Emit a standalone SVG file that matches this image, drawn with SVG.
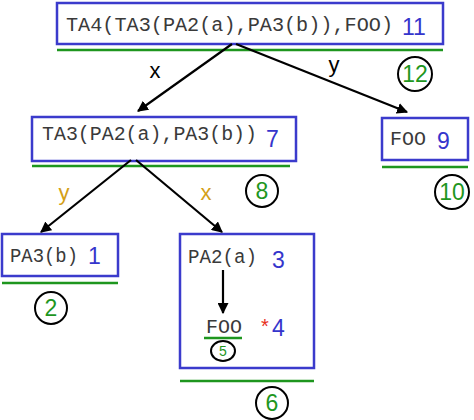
<svg xmlns="http://www.w3.org/2000/svg" width="474" height="420" viewBox="0 0 474 420">
<defs>
<marker id="ah" viewBox="0 0 10 10" refX="9" refY="5" markerWidth="5" markerHeight="5" orient="auto" markerUnits="strokeWidth">
<path d="M0,0 L10,5 L0,10 z" fill="#000"/>
</marker>
<style>
.box{fill:#fff;stroke:#3b3bcc;stroke-width:2.5}
.ul{stroke:#1e961e;stroke-width:2.5}
.code{font-family:"Liberation Mono",monospace;font-size:20px;fill:#3a3a3a}
.num{font-family:"Liberation Sans",Arial,sans-serif;font-size:23px;fill:#3535cc}
.circ{fill:none;stroke:#000;stroke-width:2}
.cn{font-family:"Liberation Sans",Arial,sans-serif;font-size:23px;fill:#1e961e;text-anchor:middle}
.edge{stroke:#000;stroke-width:2.2;fill:none;marker-end:url(#ah)}
.lbl{font-family:"Liberation Sans",Arial,sans-serif;font-size:22px}
</style>
</defs>
<rect width="474" height="420" fill="#fff"/>
<g id="n11">
<rect class="box" x="57" y="3" width="386" height="41"/>
<text class="code" x="66" y="31" textLength="327" lengthAdjust="spacingAndGlyphs">TA4(TA3(PA2(a),PA3(b)),FOO)</text>
<text class="num" x="402" y="35">11</text>
<line class="ul" x1="57" y1="50" x2="443" y2="50"/>
<circle class="circ" cx="415" cy="74" r="17"/>
<text class="cn" x="415" y="82">12</text>
</g>
<g id="n7">
<rect class="box" x="32" y="117" width="264" height="44"/>
<text class="code" x="42" y="140" textLength="215" lengthAdjust="spacingAndGlyphs">TA3(PA2(a),PA3(b))</text>
<text class="num" x="266" y="147">7</text>
<line class="ul" x1="32" y1="166" x2="290" y2="166"/>
<circle class="circ" cx="262" cy="191" r="16"/>
<text class="cn" x="262" y="199">8</text>
</g>
<g id="n9">
<rect class="box" x="382" y="118" width="86" height="42"/>
<text class="code" x="390" y="145">FOO</text>
<text class="num" x="437" y="149">9</text>
<line class="ul" x1="382" y1="167" x2="468" y2="167"/>
<circle class="circ" cx="452" cy="192" r="17"/>
<text class="cn" x="452" y="200">10</text>
</g>
<g id="n1">
<rect class="box" x="2" y="234" width="116" height="42"/>
<text class="code" x="10" y="262" textLength="68" lengthAdjust="spacingAndGlyphs">PA3(b)</text>
<text class="num" x="88" y="264">1</text>
<line class="ul" x1="2" y1="283" x2="118" y2="283"/>
<circle class="circ" cx="51" cy="308" r="16"/>
<text class="cn" x="51" y="316">2</text>
</g>
<g id="n3">
<rect class="box" x="180" y="234" width="134" height="134"/>
<text class="code" x="188" y="263" textLength="69" lengthAdjust="spacingAndGlyphs">PA2(a)</text>
<text class="num" x="272" y="268">3</text>
<line class="ul" x1="180" y1="381" x2="314" y2="381"/>
<circle class="circ" cx="272" cy="403" r="16"/>
<text class="cn" x="272" y="411">6</text>
</g>
<g id="n5">
<text class="code" x="206" y="333" textLength="36" lengthAdjust="spacingAndGlyphs">FOO</text>
<text x="265" y="333" font-family="Liberation Sans,Arial,sans-serif" font-size="20" fill="#e8301c" text-anchor="middle">*</text>
<text class="num" x="272" y="336">4</text>
<line class="ul" x1="204" y1="338" x2="242" y2="338"/>
<ellipse class="circ" cx="223" cy="351" rx="12" ry="10"/>
<text class="cn" x="223" y="356" style="font-size:14px">5</text>
</g>
<g id="connectors">
<line class="edge" x1="232" y1="44" x2="138" y2="111"/>
<line class="edge" x1="236" y1="44" x2="407" y2="112"/>
<line class="edge" x1="131" y1="160" x2="41" y2="232"/>
<line class="edge" x1="136" y1="160" x2="222" y2="232"/>
<line class="edge" x1="223" y1="270" x2="223" y2="313"/>
<text class="lbl" x="155" y="78" text-anchor="middle" fill="#000">x</text>
<text class="lbl" x="334" y="72" text-anchor="middle" fill="#000">y</text>
<text class="lbl" x="64" y="200" text-anchor="middle" fill="#d4a017">y</text>
<text class="lbl" x="206" y="200" text-anchor="middle" fill="#d4a017">x</text>
</g>
</svg>
